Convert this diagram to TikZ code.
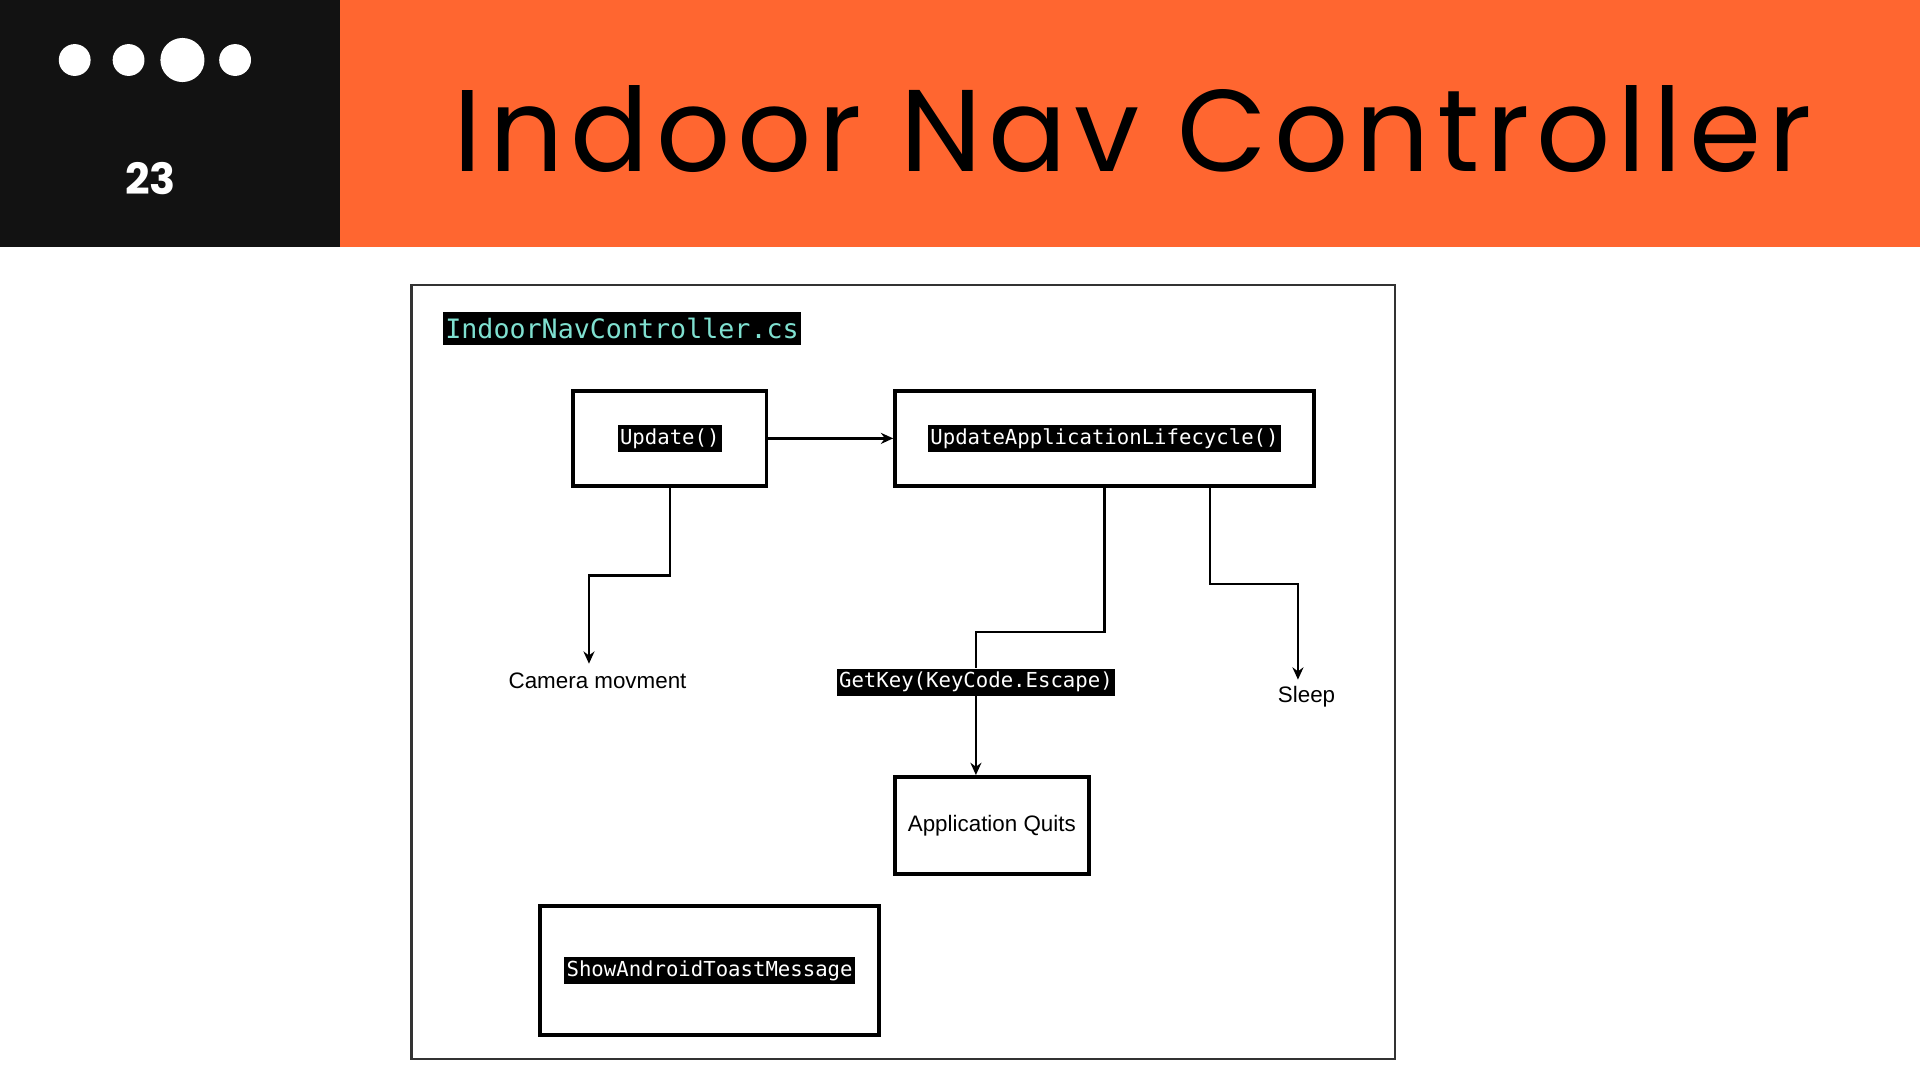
\documentclass[tikz,border=0pt]{standalone}
\usepackage{fontspec}
\setmainfont{Liberation Sans}
\newfontfamily\titlefont[LetterSpace=6]{Poppins}
\newfontfamily\numfont{Poppins}
\setmonofont{DejaVu Sans Mono}
\usetikzlibrary{arrows.meta}
\definecolor{orng}{HTML}{FF6630}
\definecolor{cyn}{HTML}{7FE0D0}
\tikzset{
  box/.style={draw=black, line width=0.9pt, inner sep=0},
  code/.style={fill=black, text=white, font=\ttfamily\fontsize{4.8}{5}\selectfont, inner sep=0.5pt, minimum height=2.2mm},
  plain/.style={font=\fontsize{5.2}{6}\selectfont, inner sep=0},
  conn/.style={line width=0.6pt, -{Stealth[length=1mm,width=0.9mm]}},
  seg/.style={line width=0.6pt}
}
\begin{document}
\begin{tikzpicture}[x=0.1mm,y=-0.1mm]
\useasboundingbox (0,0) rectangle (1568,882);
\fill[white] (0,0) rectangle (1568,882);
\fill[orng] (278,0) rectangle (1568,202);
\fill[black!93] (0,0) rectangle (278,202);
\foreach \x/\r [count=\i] in {61/13,105/13,149/18,192/13} \fill[white] (\x,49) circle (\r);
\node[text=white, font=\numfont\bfseries\fontsize{10}{12}\selectfont] (num) at (123,146) {23};
\node[font=\titlefont\fontsize{27}{30}\selectfont] (title) at (925,105) {Indoor Nav Controller};
\draw[line width=0.5pt, black!80] (336,233) rectangle (1139,865);
\node[code, text=cyn, font=\ttfamily\fontsize{6.2}{7}\selectfont, minimum height=2.7mm] (file) at (508,268) {IndoorNavController.cs};
\node[box, minimum width=15.8mm, minimum height=7.8mm] (upd) at (547,358) {};
\node[code] at (upd) {Update()};
\node[box, minimum width=34.2mm, minimum height=7.8mm] (ual) at (902,358) {};
\node[code] at (ual) {UpdateApplicationLifecycle()};
\node[box, minimum width=15.8mm, minimum height=7.9mm] (quit) at (810,674) {};
\node[plain] at (quit) {Application Quits};
\node[box, minimum width=27.7mm, minimum height=10.5mm] (toast) at (579.5,792.5) {};
\node[code] at (toast) {ShowAndroidToastMessage};
\node[code] (key) at (797,557) {GetKey(KeyCode.Escape)};
\node[plain] (cam) at (488,556) {Camera movment};
\node[plain] (sleep) at (1067,569) {Sleep};
\coordinate (camT) at (481,542);
\coordinate (sleepT) at (1060,555);
\draw[conn] (upd.east) -- (ual.west);
\draw[conn] (upd.south) -- (547,470) -| (camT);
\draw[seg] (ual.south) -- (902,516) -| (key.north);
\draw[conn] (key.south) -- (quit.north -| key.south);
\draw[conn] (988,397) -- (988,477) -| (sleepT);
\end{tikzpicture}
\end{document}
